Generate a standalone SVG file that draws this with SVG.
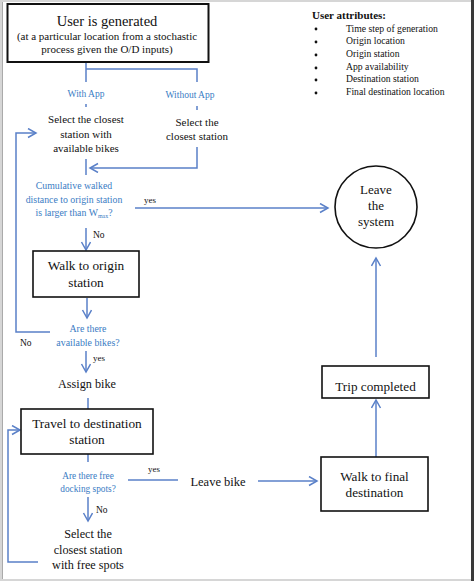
<svg xmlns="http://www.w3.org/2000/svg" width="474" height="581" viewBox="0 0 474 581">
<defs>
<style>
text{font-family:'Liberation Serif',serif}
.t{fill:#111;text-anchor:middle}
.b{fill:#3a7cc4;text-anchor:middle}
.l{fill:#111}
.box{fill:#fff;stroke:#111;stroke-width:1.6}
.c{fill:none;stroke:#5a80c8;stroke-width:1.5}
</style>
<marker id="ah" markerUnits="userSpaceOnUse" markerWidth="12" markerHeight="12" refX="9" refY="5" orient="auto">
<path d="M1,0.5 L9,5 L1,9.5" fill="none" stroke="#5a80c8" stroke-width="1.5"/>
</marker>
</defs>
<rect x="0" y="0" width="474" height="581" fill="#d6d6d6"/>
<rect x="3" y="2" width="468" height="577" fill="#fff"/>
<rect x="471" y="0" width="3" height="581" fill="#3a3a3a"/>
<line x1="2.5" y1="2" x2="2.5" y2="579" stroke="#aaa" stroke-width="1"/>

<g id="connectors">
<path class="c" d="M86,63 V82 M86,69 H197 V82"/>
<path class="c" d="M86,104 V107 M197,106 V110"/>
<path class="c" d="M197,147 V168 H90" marker-end="url(#ah)"/>
<path class="c" d="M86,159 V175"/>
<path class="c" d="M135,208 H328" marker-end="url(#ah)"/>
<path class="c" d="M86,228 V250" marker-end="url(#ah)"/>
<path class="c" d="M87,298 V318" marker-end="url(#ah)"/>
<path class="c" d="M86,351 V372" marker-end="url(#ah)"/>
<path class="c" d="M50,332 H16 V133 H36" marker-end="url(#ah)"/>
<path class="c" d="M88,398 V409"/>
<path class="c" d="M88,454 V462"/>
<path class="c" d="M88,497 V521" marker-end="url(#ah)"/>
<path class="c" d="M128,480 H178"/>
<path class="c" d="M258,481 H317" marker-end="url(#ah)"/>
<path class="c" d="M376,457 V400" marker-end="url(#ah)"/>
<path class="c" d="M376,357 V258" marker-end="url(#ah)"/>
<path class="c" d="M38,562 H8 V430 H20" marker-end="url(#ah)"/>
</g>

<g id="user-generated">
<rect x="7.5" y="4" width="201" height="58" fill="#fff" stroke="#111" stroke-width="2"/>
<text class="t" x="107" y="26" font-size="14.5">User is generated</text>
<text class="t" x="107" y="40" font-size="11">(at a particular location from a stochastic</text>
<text class="t" x="107" y="53" font-size="11">process given the O/D inputs)</text>
</g>

<g id="with-app"><text class="b" x="86" y="97" font-size="9.5">With App</text></g>
<g id="without-app"><text class="b" x="190" y="98" font-size="9.5">Without App</text></g>

<g id="select-available">
<text class="t" x="86" y="123" font-size="11">Select the closest</text>
<text class="t" x="86" y="138" font-size="11">station with</text>
<text class="t" x="86" y="152" font-size="11">available bikes</text>
</g>
<g id="select-closest">
<text class="t" x="197" y="126" font-size="11">Select the</text>
<text class="t" x="197" y="140" font-size="11">closest station</text>
</g>

<g id="decision-walked">
<text class="b" x="74" y="189" font-size="9.8">Cumulative walked</text>
<text class="b" x="74" y="203" font-size="9.8">distance to origin station</text>
<text class="b" x="74" y="216" font-size="9.8">is larger than W<tspan font-size="6" dy="1.5">max</tspan><tspan dy="-1.5">?</tspan></text>
<text class="l" x="144" y="203" font-size="9">yes</text>
<text class="l" x="93" y="238" font-size="9.5">No</text>
</g>

<g id="leave-system">
<circle cx="376" cy="207" r="41" fill="#fff" stroke="#111" stroke-width="1.6"/>
<text class="t" x="376" y="194" font-size="13">Leave</text>
<text class="t" x="376" y="210" font-size="13">the</text>
<text class="t" x="376" y="226" font-size="13">system</text>
</g>

<g id="walk-origin">
<rect class="box" x="33" y="251" width="106" height="46"/>
<text class="t" x="86" y="270" font-size="13.3">Walk to origin</text>
<text class="t" x="86" y="287" font-size="13.3">station</text>
</g>

<g id="decision-bikes">
<text class="b" x="88" y="332" font-size="9.9">Are there</text>
<text class="b" x="88" y="346" font-size="9.9">available bikes?</text>
<text class="l" x="20" y="346" font-size="9.5">No</text>
<text class="l" x="93" y="361" font-size="9">yes</text>
</g>

<g id="assign-bike"><text class="t" x="87" y="388" font-size="12.2">Assign bike</text></g>

<g id="travel-destination">
<rect class="box" x="21" y="409" width="132" height="45"/>
<text class="t" x="87" y="428" font-size="13.3">Travel to destination</text>
<text class="t" x="87" y="444" font-size="13.3">station</text>
</g>

<g id="decision-docking">
<text class="b" x="88" y="479" font-size="9.3">Are there free</text>
<text class="b" x="88" y="492" font-size="9.3">docking spots?</text>
<text class="l" x="148" y="472" font-size="9">yes</text>
<text class="l" x="96" y="513" font-size="9.5">No</text>
</g>

<g id="leave-bike"><text class="t" x="218" y="486" font-size="12.5">Leave bike</text></g>

<g id="select-free">
<text class="t" x="88" y="538" font-size="12.2">Select the</text>
<text class="t" x="88" y="554" font-size="12.2">closest station</text>
<text class="t" x="88" y="569" font-size="12.2">with free spots</text>
</g>

<g id="walk-final">
<rect class="box" x="321" y="457" width="107" height="54"/>
<text class="t" x="374.5" y="481" font-size="13.2">Walk to final</text>
<text class="t" x="374.5" y="497" font-size="13.2">destination</text>
</g>

<g id="trip-completed">
<rect class="box" x="322" y="366" width="107" height="32"/>
<text class="t" x="375.5" y="391" font-size="13.2">Trip completed</text>
</g>

<g id="user-attributes">
<text class="l" x="312" y="19" font-size="11" font-weight="bold">User attributes:</text>
<circle cx="316" cy="29" r="1.4" fill="#111"/><text class="l" x="346" y="32" font-size="9.7">Time step of generation</text>
<circle cx="316" cy="42" r="1.4" fill="#111"/><text class="l" x="346" y="44" font-size="9.7">Origin location</text>
<circle cx="316" cy="55" r="1.4" fill="#111"/><text class="l" x="346" y="57" font-size="9.7">Origin station</text>
<circle cx="316" cy="68" r="1.4" fill="#111"/><text class="l" x="346" y="70" font-size="9.7">App availability</text>
<circle cx="316" cy="80" r="1.4" fill="#111"/><text class="l" x="346" y="82" font-size="9.7">Destination station</text>
<circle cx="316" cy="93" r="1.4" fill="#111"/><text class="l" x="346" y="95" font-size="9.7">Final destination location</text>
</g>
</svg>
